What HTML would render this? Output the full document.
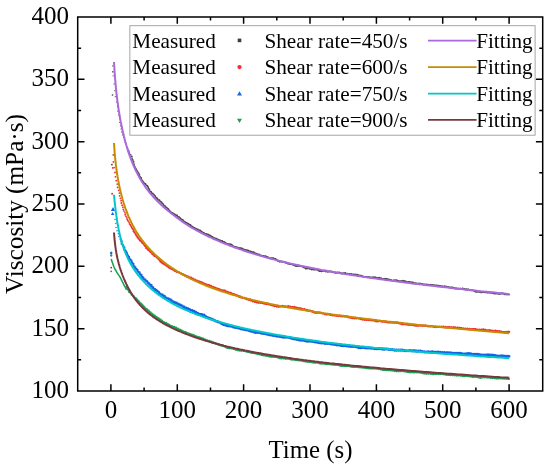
<!DOCTYPE html><html><head><meta charset="utf-8"><title>Viscosity vs Time</title>
<style>html,body{margin:0;padding:0;background:#fff}svg{display:block}text{font-family:"Liberation Serif","Times New Roman",serif;fill:#000}</style></head><body>
<svg width="550" height="470" viewBox="0 0 550 470">
<rect width="550" height="470" fill="#fff"/>
<path d="M112.7,65.9h0 M113.1,75.8h0 M114.1,83.9h0 M114.8,90.7h0 M115.3,96.7h0 M116.3,102.0h0 M117.4,106.7h0 M117.8,111.1h0 M118.7,115.1h0 M119.6,118.8h0 M119.7,122.5h0 M120.6,125.8h0 M121.1,128.9h0 M121.5,132.0h0 M122.5,134.8h0 M123.7,137.3h0 M124.4,139.9h0 M125.2,142.3h0 M126.2,144.6h0 M127.0,146.8h0 M128.0,148.9h0" stroke="#4a4a4a" stroke-width="1.2" stroke-linecap="round" fill="none"/>
<path d="M128.8,150.9h0 M129.3,153.0h0 M130.6,154.7h0 M131.9,156.4h0 M132.0,158.3h0 M132.8,160.0h0 M133.6,161.6h0 M133.7,163.4h0 M134.3,165.0h0 M134.8,166.6h0 M135.5,168.1h0 M136.3,169.4h0 M137.0,170.7h0 M137.7,172.0h0 M138.6,173.2h0 M139.3,174.4h0 M139.5,175.9h0 M140.3,177.0h0 M141.2,178.0h0 M141.5,179.3h0 M142.1,180.5h0 M143.0,181.4h0 M143.6,182.4h0 M144.5,183.3h0 M145.5,184.0h0 M146.1,185.1h0 M147.2,185.7h0 M147.9,186.5h0 M148.3,187.6h0 M148.8,188.6h0 M149.4,189.5h0 M149.6,190.7h0 M150.3,191.5h0 M151.3,192.0h0 M151.6,193.1h0 M152.7,193.5h0 M153.5,194.1h0 M154.1,194.9h0 M154.8,195.6h0 M155.3,196.5h0 M155.8,197.3h0 M156.6,197.9h0 M157.3,198.5h0 M157.8,199.3h0 M158.5,199.9h0 M159.5,200.2h0 M160.0,201.1h0 M160.6,201.7h0 M161.5,202.1h0 M161.9,203.0h0 M162.6,203.6h0 M163.3,204.1h0 M163.6,205.1h0 M164.3,205.6h0 M165.1,206.1h0 M165.4,207.0h0 M166.3,207.3h0 M167.0,207.8h0 M167.6,208.4h0 M168.3,209.0h0 M168.7,209.7h0 M169.2,210.5h0 M169.9,211.0h0 M170.5,211.6h0 M170.9,212.4h0 M171.8,212.7h0 M172.7,212.9h0 M173.2,213.6h0 M174.1,213.8h0 M174.8,214.3h0 M175.3,215.0h0 M176.2,215.2h0 M177.1,215.4h0 M177.5,216.3h0 M178.1,216.8h0 M179.0,217.0h0 M179.6,217.6h0 M180.2,218.2h0 M180.8,218.7h0 M181.3,219.3h0 M182.1,219.6h0 M182.9,220.0h0 M183.2,220.9h0 M183.9,221.3h0 M184.7,221.6h0 M185.3,222.1h0 M185.9,222.6h0 M186.7,222.9h0 M187.3,223.4h0 M188.0,223.7h0 M188.7,224.0h0 M189.3,224.6h0 M190.0,224.9h0 M190.7,225.2h0 M191.1,226.0h0 M191.7,226.5h0 M192.5,226.6h0 M193.0,227.4h0 M193.7,227.6h0 M194.5,227.8h0 M195.0,228.4h0 M195.8,228.6h0 M196.5,228.9h0 M197.1,229.3h0 M197.9,229.4h0 M198.5,229.8h0 M199.1,230.2h0 M199.9,230.4h0 M200.6,230.7h0 M201.0,231.4h0 M201.7,231.8h0 M202.4,232.1h0 M202.8,232.9h0 M203.6,233.0h0 M204.3,233.2h0 M204.9,233.7h0 M205.6,233.9h0 M206.4,233.9h0 M207.0,234.3h0 M207.7,234.5h0 M208.5,234.6h0 M209.0,235.3h0 M209.7,235.5h0 M210.5,235.6h0 M210.9,236.4h0 M211.6,236.6h0 M212.3,236.8h0 M212.8,237.4h0 M213.6,237.6h0 M214.2,237.9h0 M214.8,238.3h0 M215.6,238.4h0 M216.3,238.6h0 M216.8,239.2h0 M217.5,239.3h0 M218.2,239.6h0 M218.9,239.9h0 M219.5,240.1h0 M220.2,240.4h0 M220.8,240.8h0 M221.5,241.0h0 M222.3,241.0h0 M222.8,241.7h0 M223.5,241.9h0 M224.2,241.9h0 M224.7,242.7h0 M225.4,242.7h0 M226.1,243.1h0 M226.5,243.9h0 M227.3,243.9h0 M228.0,243.9h0 M228.7,244.3h0 M229.4,244.2h0 M230.3,244.1h0 M230.8,244.5h0 M231.6,244.6h0 M232.1,245.1h0 M232.6,245.8h0 M233.2,246.2h0 M233.9,246.4h0 M234.5,246.8h0 M235.2,246.9h0 M236.0,246.9h0 M236.5,247.5h0 M237.3,247.5h0 M238.0,247.6h0 M238.5,248.1h0 M239.2,248.2h0 M240.1,248.0h0 M240.7,248.2h0 M241.4,248.3h0 M242.1,248.5h0 M242.7,249.1h0 M243.4,249.1h0 M244.0,249.4h0 M244.6,250.0h0 M245.3,250.0h0 M246.1,249.8h0 M246.7,250.2h0 M247.4,250.3h0 M248.1,250.3h0 M248.7,250.9h0 M249.3,251.1h0 M250.0,251.1h0 M250.6,251.8h0 M251.3,251.7h0 M252.0,251.9h0 M252.6,252.3h0 M253.3,252.2h0 M254.0,252.5h0 M254.6,252.9h0 M255.2,253.3h0 M255.9,253.4h0 M256.4,253.9h0 M257.1,254.2h0 M257.8,254.1h0 M258.4,254.7h0 M259.1,254.5h0 M259.8,254.9h0 M260.3,255.3h0 M261.1,255.3h0 M261.7,255.6h0 M262.3,255.9h0 M263.0,256.1h0 M263.8,255.9h0 M264.4,256.4h0 M265.1,256.2h0 M265.8,256.2h0 M266.4,256.8h0 M267.0,257.0h0 M267.8,257.0h0 M268.3,257.7h0 M268.9,258.1h0 M269.6,257.9h0 M270.2,258.3h0 M271.0,258.2h0 M271.7,258.2h0 M272.4,258.3h0 M273.1,258.2h0 M273.8,258.3h0 M274.4,258.8h0 M275.0,258.9h0 M275.7,258.9h0 M276.2,259.9h0 M276.9,260.1h0 M277.5,260.3h0 M278.0,261.1h0 M278.7,261.2h0 M279.3,261.5h0 M280.0,261.8h0 M280.8,261.4h0 M281.5,261.4h0 M282.1,261.8h0 M282.8,261.7h0 M283.5,261.7h0 M284.1,262.0h0 M284.8,262.3h0 M285.5,262.2h0 M286.0,262.9h0 M286.7,263.0h0 M287.4,263.0h0 M287.9,263.7h0 M288.7,263.6h0 M289.3,264.0h0 M289.9,264.1h0 M290.6,264.1h0 M291.3,264.1h0 M292.0,264.4h0 M292.6,264.5h0 M293.3,264.6h0 M293.9,265.3h0 M294.5,265.4h0 M295.2,265.5h0 M295.8,266.0h0 M296.5,266.0h0 M297.2,265.9h0 M297.9,266.1h0 M298.6,265.7h0 M299.3,265.8h0 M299.9,266.2h0 M300.6,266.2h0 M301.4,266.0h0 M302.0,266.4h0 M302.6,266.8h0 M303.3,266.9h0 M303.8,267.4h0 M304.5,267.6h0 M305.1,267.9h0 M305.7,268.5h0 M306.4,268.5h0 M307.1,268.3h0 M307.8,268.4h0 M308.5,268.4h0 M309.2,268.3h0 M309.8,268.9h0 M310.5,268.6h0 M311.2,268.8h0 M311.7,269.5h0 M312.4,269.4h0 M313.1,269.2h0 M313.8,269.6h0 M314.5,269.6h0 M315.2,269.5h0 M315.8,269.6h0 M316.5,269.7h0 M317.2,269.7h0 M317.8,270.1h0 M318.4,270.6h0 M319.1,270.5h0 M319.7,271.2h0 M320.4,271.0h0 M321.0,271.2h0 M321.7,271.3h0 M322.5,270.9h0 M323.2,270.8h0 M323.9,270.8h0 M324.5,270.9h0 M325.2,270.9h0 M325.8,271.6h0 M326.5,271.4h0 M327.2,271.5h0 M327.8,271.8h0 M328.5,271.5h0 M329.2,271.3h0 M329.9,271.6h0 M330.6,271.4h0 M331.3,271.4h0 M331.8,272.1h0 M332.5,272.2h0 M333.2,272.0h0 M333.8,272.4h0 M334.5,272.6h0 M335.2,272.5h0 M335.8,272.9h0 M336.5,272.7h0 M337.3,272.3h0 M337.9,272.6h0 M338.6,272.6h0 M339.3,272.5h0 M339.9,272.9h0 M340.6,272.9h0 M341.2,273.1h0 M341.8,273.7h0 M342.5,273.4h0 M343.2,273.3h0 M343.9,273.2h0 M344.6,273.2h0 M345.3,273.0h0 M345.9,273.6h0 M346.6,273.7h0 M347.3,273.7h0 M347.9,274.2h0 M348.5,274.2h0 M349.3,274.0h0 M349.9,274.3h0 M350.6,274.1h0 M351.3,274.0h0 M351.9,274.4h0 M352.6,274.3h0 M353.2,274.5h0 M353.9,274.7h0 M354.6,274.6h0 M355.3,274.5h0 M355.9,274.8h0 M356.6,274.7h0 M357.3,274.7h0 M357.9,275.2h0 M358.6,275.2h0 M359.2,275.3h0 M359.9,275.5h0 M360.5,275.8h0 M361.2,275.7h0 M361.8,276.3h0 M362.5,276.2h0 M363.1,276.4h0 M363.7,276.9h0 M364.4,276.9h0 M365.1,276.8h0 M365.8,277.1h0 M366.4,277.0h0 M367.1,276.8h0 M367.8,277.3h0 M368.5,277.1h0 M369.2,276.9h0 M369.7,277.6h0 M370.4,277.6h0 M371.1,277.5h0 M371.8,277.7h0 M372.5,277.4h0 M373.2,277.2h0 M373.8,277.3h0 M374.5,277.3h0 M375.2,277.2h0 M375.8,277.7h0 M376.5,277.7h0 M377.2,277.8h0 M377.8,278.2h0 M378.5,277.9h0 M379.2,277.7h0 M379.8,278.1h0 M380.5,278.3h0 M381.2,278.2h0 M381.8,278.7h0 M382.4,278.8h0 M383.1,278.8h0 M383.7,279.1h0 M384.4,278.9h0 M385.2,278.6h0 M385.8,279.0h0 M386.5,278.9h0 M387.1,278.9h0 M387.7,279.5h0 M388.4,279.3h0 M389.1,279.4h0 M389.7,280.0h0 M390.4,280.0h0 M391.1,280.0h0 M391.7,280.5h0 M392.3,280.7h0 M393.0,280.6h0 M393.7,280.5h0 M394.4,280.5h0 M395.1,280.2h0 M395.7,280.3h0 M396.4,280.2h0 M397.1,280.3h0 M397.7,280.9h0 M398.4,280.8h0 M399.0,281.0h0 M399.6,281.6h0 M400.3,281.3h0 M401.0,281.0h0 M401.7,281.2h0 M402.4,281.2h0 M403.1,280.7h0 M403.7,281.0h0 M404.4,281.2h0 M405.1,281.2h0 M405.7,281.8h0 M406.4,281.7h0 M407.0,281.8h0 M407.6,282.2h0 M408.3,281.9h0 M409.0,282.0h0 M409.7,282.2h0 M410.3,282.2h0 M411.0,282.1h0 M411.6,282.5h0 M412.3,282.5h0 M413.0,282.5h0 M413.6,283.1h0 M414.2,283.2h0 M414.9,283.1h0 M415.6,283.5h0 M416.2,283.4h0 M416.9,283.3h0 M417.5,283.8h0 M418.2,283.6h0 M419.0,283.3h0 M419.6,283.8h0 M420.3,283.7h0 M420.9,283.6h0 M421.6,283.9h0 M422.2,283.9h0 M422.9,284.1h0 M423.5,284.7h0 M424.2,284.5h0 M424.9,284.4h0 M425.5,284.6h0 M426.2,284.5h0 M426.9,284.4h0 M427.5,284.7h0 M428.2,284.8h0 M428.9,284.7h0 M429.5,285.1h0 M430.2,284.9h0 M430.9,284.7h0 M431.5,285.3h0 M432.2,285.0h0 M432.9,284.9h0 M433.5,285.5h0 M434.2,285.5h0 M434.9,285.2h0 M435.5,285.5h0 M436.2,285.3h0 M436.9,285.5h0 M437.5,285.8h0 M438.2,285.6h0 M438.9,285.6h0 M439.5,285.9h0 M440.2,286.0h0 M440.8,286.1h0 M441.5,286.1h0 M442.1,286.3h0 M442.8,286.2h0 M443.5,286.6h0 M444.1,286.6h0 M444.9,286.1h0 M445.4,286.8h0 M446.1,286.6h0 M446.8,286.6h0 M447.4,287.0h0 M448.1,287.0h0 M448.8,287.1h0 M449.4,287.5h0 M450.1,287.4h0 M450.8,287.3h0 M451.4,287.5h0 M452.1,287.4h0 M452.8,287.3h0 M453.4,287.9h0 M454.0,288.0h0 M454.7,287.9h0 M455.3,288.5h0 M456.0,288.6h0 M456.7,288.3h0 M457.3,288.6h0 M458.0,288.7h0 M458.7,288.6h0 M459.3,288.8h0 M460.0,288.6h0 M460.7,288.7h0 M461.3,288.9h0 M462.0,288.6h0 M462.7,288.4h0 M463.3,289.1h0 M464.0,289.2h0 M464.7,289.0h0 M465.3,289.5h0 M466.0,289.3h0 M466.7,289.1h0 M467.3,289.5h0 M468.0,289.5h0 M468.7,289.4h0 M469.3,289.9h0 M469.9,290.0h0 M470.6,290.1h0 M471.2,290.4h0 M471.9,290.1h0 M472.6,290.1h0 M473.2,290.6h0 M473.9,290.8h0 M474.5,290.9h0 M475.2,291.5h0 M475.8,291.8h0 M476.5,291.6h0 M477.1,291.9h0 M477.8,291.7h0 M478.5,291.6h0 M479.1,292.1h0 M479.8,291.9h0 M480.5,291.7h0 M481.1,292.4h0 M481.8,292.3h0 M482.5,292.0h0 M483.1,292.2h0 M483.8,292.1h0 M484.5,292.2h0 M485.1,292.4h0 M485.8,292.3h0 M486.5,292.1h0 M487.1,292.6h0 M487.8,292.6h0 M488.5,292.6h0 M489.1,292.7h0 M489.8,292.6h0 M490.5,292.6h0 M491.1,292.9h0 M491.8,292.9h0 M492.5,292.8h0 M493.1,293.2h0 M493.7,293.4h0 M494.4,293.4h0 M495.1,293.7h0 M495.8,293.3h0 M496.4,293.4h0 M497.1,293.7h0 M497.7,293.7h0 M498.4,293.6h0 M499.0,294.1h0 M499.7,293.9h0 M500.5,293.3h0 M501.1,293.7h0 M501.8,293.4h0 M502.5,293.2h0 M503.1,293.7h0 M503.8,293.7h0 M504.4,294.2h0 M505.0,294.4h0 M505.7,294.2h0 M506.4,294.2h0 M507.0,294.5h0 M507.7,294.3h0 M508.4,294.0h0 M509.0,294.6h0" stroke="#4a4a4a" stroke-width="1.8" stroke-linecap="round" fill="none"/>
<path d="M113.3,154.9h0 M113.4,161.9h0 M114.1,167.6h0 M115.0,172.5h0 M115.4,176.8h0 M116.2,180.7h0 M117.2,184.1h0 M117.6,187.4h0 M118.7,190.3h0 M119.4,193.1h0 M119.6,195.8h0 M120.4,198.3h0 M121.1,200.7h0 M121.3,203.0h0 M122.1,205.2h0 M122.9,207.2h0 M123.2,209.3h0 M124.0,211.1h0 M125.0,212.8h0 M125.2,214.7h0 M126.0,216.3h0 M126.9,217.8h0 M127.2,219.5h0 M128.1,220.9h0 M129.1,222.3h0 M129.5,223.8h0 M130.4,225.0h0 M131.2,226.2h0 M131.6,227.7h0" stroke="#f03030" stroke-width="1.8" stroke-linecap="round" fill="none"/>
<path d="M132.6,228.7h0 M133.4,229.8h0 M133.6,231.3h0 M134.4,232.3h0 M135.4,233.3h0 M135.7,234.5h0 M136.4,235.6h0 M137.2,236.6h0 M137.7,237.6h0 M138.5,238.5h0 M139.4,239.3h0 M139.9,240.4h0 M140.9,241.0h0 M141.7,241.8h0 M142.2,242.8h0 M143.2,243.4h0 M144.0,244.2h0 M144.4,245.2h0 M145.0,246.0h0 M146.0,246.6h0 M146.1,247.9h0 M146.9,248.5h0 M147.7,249.0h0 M148.1,250.0h0 M149.1,250.5h0 M149.9,251.1h0 M150.4,251.9h0 M151.2,252.5h0 M152.0,253.1h0 M152.3,254.1h0 M153.1,254.6h0 M153.9,255.1h0 M154.4,255.9h0 M155.4,256.2h0 M156.3,256.5h0 M156.7,257.4h0 M157.5,257.8h0 M158.4,258.2h0 M158.6,259.2h0 M159.3,259.8h0 M160.0,260.3h0 M160.3,261.4h0 M161.0,261.9h0 M161.7,262.4h0 M162.2,263.0h0 M162.9,263.5h0 M163.8,263.8h0 M164.4,264.4h0 M165.3,264.6h0 M166.0,265.1h0 M166.5,265.8h0 M167.4,266.0h0 M168.1,266.4h0 M168.5,267.3h0 M169.2,267.7h0 M170.2,267.6h0 M170.6,268.4h0 M171.3,268.8h0 M172.1,269.1h0 M172.8,269.6h0 M173.6,269.8h0 M174.3,270.2h0 M174.7,271.0h0 M175.5,271.2h0 M176.4,271.2h0 M176.9,272.0h0 M177.7,272.0h0 M178.6,272.1h0 M179.2,272.7h0 M180.0,272.8h0 M180.7,273.1h0 M181.2,273.7h0 M182.0,273.9h0 M182.8,274.1h0 M183.3,274.8h0 M184.0,274.9h0 M184.8,275.0h0 M185.3,275.8h0 M186.1,275.9h0 M186.8,276.1h0 M187.3,276.7h0 M188.2,276.7h0 M188.9,277.0h0 M189.4,277.5h0 M190.2,277.6h0 M191.0,277.6h0 M191.5,278.4h0 M192.2,278.6h0 M193.0,278.6h0 M193.4,279.4h0 M194.2,279.5h0 M194.9,279.7h0 M195.5,280.2h0 M196.1,280.5h0 M196.9,280.6h0 M197.5,281.2h0 M198.2,281.3h0 M199.0,281.3h0 M199.5,281.9h0 M200.3,281.8h0 M201.0,282.0h0 M201.6,282.5h0 M202.3,282.6h0 M203.0,283.0h0 M203.4,283.7h0 M204.2,283.6h0 M204.9,283.8h0 M205.4,284.6h0 M206.1,284.7h0 M206.9,284.7h0 M207.5,285.1h0 M208.2,285.2h0 M209.0,285.2h0 M209.5,285.7h0 M210.2,285.9h0 M211.0,285.9h0 M211.4,286.6h0 M212.1,286.8h0 M212.9,286.9h0 M213.4,287.5h0 M214.1,287.6h0 M214.8,287.7h0 M215.3,288.4h0 M216.0,288.4h0 M216.8,288.3h0 M217.3,289.0h0 M218.1,289.0h0 M218.8,288.9h0 M219.4,289.4h0 M220.1,289.6h0 M220.7,289.8h0 M221.3,290.4h0 M222.1,290.3h0 M222.8,290.3h0 M223.3,290.9h0 M224.1,290.7h0 M224.9,290.6h0 M225.4,291.3h0 M226.0,291.5h0 M226.7,291.6h0 M227.2,292.4h0 M228.0,292.2h0 M228.7,292.3h0 M229.3,292.9h0 M230.0,292.9h0 M230.7,292.9h0 M231.2,293.5h0 M231.9,293.7h0 M232.6,293.8h0 M233.1,294.3h0 M233.8,294.4h0 M234.6,294.4h0 M235.1,294.9h0 M235.8,295.1h0 M236.5,295.1h0 M237.0,295.8h0 M237.7,295.8h0 M238.4,295.9h0 M238.9,296.8h0 M239.7,296.6h0 M240.3,296.7h0 M240.8,297.5h0 M241.6,297.4h0 M242.2,297.6h0 M242.9,297.9h0 M243.6,298.0h0 M244.3,297.9h0 M244.9,298.4h0 M245.5,298.6h0 M246.2,298.6h0 M246.8,299.2h0 M247.5,299.3h0 M248.2,299.4h0 M248.8,299.8h0 M249.5,299.8h0 M250.2,299.6h0 M250.7,300.4h0 M251.4,300.4h0 M252.1,300.4h0 M252.6,301.3h0 M253.4,301.1h0 M254.1,301.0h0 M254.6,301.8h0 M255.3,302.0h0 M256.0,301.8h0 M256.6,302.3h0 M257.3,302.4h0 M258.0,302.4h0 M258.6,302.8h0 M259.4,302.4h0 M260.1,302.4h0 M260.7,302.9h0 M261.4,302.8h0 M262.1,302.7h0 M262.7,303.1h0 M263.4,303.3h0 M264.1,303.1h0 M264.7,303.7h0 M265.3,303.8h0 M266.1,303.7h0 M266.7,304.1h0 M267.4,303.8h0 M268.1,303.9h0 M268.7,304.4h0 M269.4,304.2h0 M270.1,304.4h0 M270.6,305.0h0 M271.3,305.1h0 M272.0,305.1h0 M272.6,305.5h0 M273.3,305.6h0 M274.0,305.5h0 M274.6,306.1h0 M275.3,305.9h0 M276.0,305.8h0 M276.6,306.6h0 M277.3,306.4h0 M278.0,306.3h0 M278.6,306.8h0 M279.3,306.6h0 M280.0,306.4h0 M280.7,306.6h0 M281.4,306.4h0 M282.2,305.9h0 M282.8,306.3h0 M283.5,306.4h0 M284.2,306.3h0 M284.8,306.8h0 M285.5,306.4h0 M286.2,306.6h0 M286.8,306.8h0 M287.6,306.3h0 M288.3,306.2h0 M288.9,306.8h0 M289.5,306.9h0 M290.3,306.7h0 M290.9,307.2h0 M291.5,307.2h0 M292.3,307.0h0 M292.9,307.3h0 M293.6,307.0h0 M294.3,306.9h0 M294.9,307.5h0 M295.6,307.6h0 M296.3,307.6h0 M296.8,308.3h0 M297.5,308.2h0 M298.2,308.1h0 M298.9,308.4h0 M299.5,308.4h0 M300.2,308.4h0 M300.9,308.7h0 M301.5,308.7h0 M302.2,308.8h0 M302.8,309.4h0 M303.5,309.3h0 M304.2,309.1h0 M304.7,309.9h0 M305.4,309.9h0 M306.1,309.8h0 M306.7,310.3h0 M307.4,310.2h0 M308.1,310.3h0 M308.7,310.8h0 M309.4,310.5h0 M310.1,310.5h0 M310.7,311.1h0 M311.3,311.2h0 M312.0,311.2h0 M312.6,311.8h0 M313.3,311.8h0 M313.9,312.0h0 M314.5,312.7h0 M315.2,312.6h0 M315.9,312.4h0 M316.5,312.9h0 M317.2,312.7h0 M317.9,312.4h0 M318.6,312.7h0 M319.3,312.6h0 M320.0,312.6h0 M320.6,313.0h0 M321.2,313.1h0 M321.9,313.0h0 M322.6,313.4h0 M323.2,313.4h0 M323.9,313.5h0 M324.5,314.1h0 M325.1,314.2h0 M325.8,314.1h0 M326.5,314.6h0 M327.2,314.3h0 M327.9,314.0h0 M328.5,314.5h0 M329.2,314.4h0 M329.9,314.1h0 M330.5,314.9h0 M331.2,314.9h0 M331.8,315.0h0 M332.4,315.5h0 M333.1,315.1h0 M333.8,315.2h0 M334.4,315.5h0 M335.1,315.6h0 M335.8,315.4h0 M336.4,315.8h0 M337.1,315.7h0 M337.8,315.6h0 M338.4,316.1h0 M339.1,316.0h0 M339.8,315.7h0 M340.5,316.2h0 M341.1,316.2h0 M341.8,316.0h0 M342.4,316.4h0 M343.1,316.3h0 M343.8,316.1h0 M344.5,316.6h0 M345.2,316.4h0 M345.9,316.2h0 M346.5,316.6h0 M347.2,316.6h0 M347.8,316.6h0 M348.4,317.3h0 M349.1,317.2h0 M349.8,317.1h0 M350.4,317.8h0 M351.1,317.7h0 M351.7,317.8h0 M352.3,318.2h0 M353.0,318.0h0 M353.7,318.0h0 M354.3,318.5h0 M355.0,318.2h0 M355.8,317.8h0 M356.4,318.3h0 M357.1,318.3h0 M357.7,318.2h0 M358.4,318.5h0 M359.1,318.5h0 M359.7,318.5h0 M360.3,319.1h0 M361.0,319.0h0 M361.7,318.8h0 M362.3,319.6h0 M363.0,319.3h0 M363.7,319.2h0 M364.3,319.8h0 M365.0,319.5h0 M365.6,319.7h0 M366.3,319.9h0 M367.0,319.8h0 M367.7,319.7h0 M368.3,320.1h0 M369.0,319.9h0 M369.7,319.7h0 M370.3,320.2h0 M371.0,320.2h0 M371.7,319.8h0 M372.3,320.3h0 M373.0,320.3h0 M373.7,320.0h0 M374.3,320.7h0 M375.0,320.7h0 M375.6,320.9h0 M376.2,321.5h0 M376.9,321.2h0 M377.6,321.2h0 M378.3,321.3h0 M378.9,321.1h0 M379.7,320.8h0 M380.3,321.1h0 M381.0,321.2h0 M381.6,321.1h0 M382.2,321.8h0 M382.9,321.5h0 M383.6,321.4h0 M384.2,321.8h0 M384.9,321.7h0 M385.6,321.5h0 M386.2,322.1h0 M386.9,322.1h0 M387.6,322.0h0 M388.2,322.5h0 M388.9,322.4h0 M389.6,322.1h0 M390.2,322.4h0 M390.9,322.4h0 M391.6,322.2h0 M392.2,322.7h0 M392.9,322.4h0 M393.6,322.4h0 M394.2,322.8h0 M394.9,322.5h0 M395.6,322.3h0 M396.2,323.0h0 M396.9,322.7h0 M397.6,322.4h0 M398.2,323.1h0 M398.9,323.2h0 M399.5,323.3h0 M400.2,323.6h0 M400.8,323.7h0 M401.5,323.6h0 M402.1,324.3h0 M402.8,324.1h0 M403.5,323.7h0 M404.1,324.3h0 M404.8,324.2h0 M405.5,324.2h0 M406.1,324.5h0 M406.8,324.4h0 M407.5,324.4h0 M408.1,324.8h0 M408.8,324.7h0 M409.5,324.5h0 M410.1,324.9h0 M410.8,324.7h0 M411.5,324.7h0 M412.1,325.0h0 M412.8,324.9h0 M413.5,324.7h0 M414.1,325.5h0 M414.8,325.4h0 M415.4,325.4h0 M416.1,325.8h0 M416.8,325.5h0 M417.4,325.6h0 M418.1,325.8h0 M418.8,325.4h0 M419.5,325.1h0 M420.1,325.6h0 M420.8,325.6h0 M421.5,325.5h0 M422.1,325.8h0 M422.8,325.6h0 M423.5,325.5h0 M424.1,325.9h0 M424.8,325.7h0 M425.5,325.3h0 M426.1,325.8h0 M426.8,326.0h0 M427.4,326.0h0 M428.1,326.5h0 M428.8,326.2h0 M429.4,326.1h0 M430.1,326.6h0 M430.8,326.3h0 M431.5,326.0h0 M432.1,326.4h0 M432.8,326.4h0 M433.4,326.6h0 M434.0,327.0h0 M434.7,326.8h0 M435.4,326.7h0 M436.0,327.2h0 M436.7,326.8h0 M437.4,326.7h0 M438.1,327.0h0 M438.7,327.0h0 M439.4,326.7h0 M440.1,327.0h0 M440.7,327.0h0 M441.5,326.7h0 M442.1,327.1h0 M442.8,326.8h0 M443.5,326.7h0 M444.1,327.3h0 M444.7,327.2h0 M445.4,326.9h0 M446.1,327.6h0 M446.7,327.5h0 M447.4,327.0h0 M448.1,327.4h0 M448.8,327.1h0 M449.4,327.2h0 M450.1,327.5h0 M450.8,327.3h0 M451.4,327.3h0 M452.1,327.8h0 M452.8,327.3h0 M453.5,327.2h0 M454.1,327.6h0 M454.8,327.6h0 M455.4,327.4h0 M456.1,327.8h0 M456.7,328.0h0 M457.4,327.7h0 M458.1,328.0h0 M458.7,327.8h0 M459.4,327.9h0 M460.0,328.3h0 M460.7,328.2h0 M461.4,328.2h0 M462.0,328.8h0 M462.7,328.7h0 M463.4,328.4h0 M464.0,329.0h0 M464.7,328.8h0 M465.4,328.5h0 M466.0,329.1h0 M466.7,328.8h0 M467.4,328.7h0 M468.0,329.2h0 M468.7,329.0h0 M469.4,328.9h0 M470.0,329.4h0 M470.7,329.3h0 M471.4,329.0h0 M472.0,329.3h0 M472.7,329.2h0 M473.4,329.1h0 M474.0,329.5h0 M474.7,329.2h0 M475.4,329.1h0 M476.0,329.8h0 M476.6,329.7h0 M477.3,329.7h0 M478.0,329.9h0 M478.6,330.0h0 M479.3,329.7h0 M479.9,330.1h0 M480.6,330.0h0 M481.3,329.6h0 M482.0,330.1h0 M482.7,329.7h0 M483.3,329.4h0 M484.0,330.0h0 M484.7,329.8h0 M485.3,329.8h0 M486.0,330.2h0 M486.6,330.4h0 M487.3,330.3h0 M487.9,330.6h0 M488.6,330.4h0 M489.3,330.0h0 M489.9,330.7h0 M490.6,330.7h0 M491.3,330.7h0 M491.9,331.0h0 M492.6,330.9h0 M493.2,330.9h0 M493.9,331.4h0 M494.6,331.0h0 M495.3,330.7h0 M495.9,331.3h0 M496.6,331.2h0 M497.2,331.1h0 M497.9,331.5h0 M498.6,331.4h0 M499.2,331.1h0 M499.9,331.8h0 M500.5,331.7h0 M501.2,331.5h0 M501.8,332.0h0 M502.5,332.0h0 M503.2,332.1h0 M503.8,332.4h0 M504.5,332.1h0 M505.2,332.0h0 M505.8,332.5h0 M506.5,332.1h0 M507.2,331.8h0 M507.8,332.2h0 M508.5,331.9h0 M509.2,331.8h0" stroke="#f03030" stroke-width="2.2" stroke-linecap="round" fill="none"/>
<path d="M115.0,219.4h0 M115.9,223.5h0 M116.0,227.4h0 M117.0,230.7h0 M118.3,233.7h0 M118.8,236.6h0 M120.0,239.1h0" stroke="#1464e6" stroke-width="1.4" stroke-linecap="round" fill="none"/>
<path d="M121.4,241.3h0 M121.8,243.7h0 M123.1,245.6h0 M124.2,247.4h0 M124.4,249.4h0 M125.6,251.0h0 M126.6,252.5h0 M126.9,254.2h0 M127.9,255.6h0 M128.9,256.9h0 M129.2,258.4h0 M130.2,259.6h0 M131.3,260.6h0 M131.6,262.0h0 M132.3,263.1h0 M133.3,264.1h0 M133.3,265.6h0 M134.3,266.5h0 M135.2,267.3h0 M135.5,268.6h0 M136.6,269.2h0 M137.4,270.1h0 M137.6,271.2h0 M138.6,271.9h0 M139.5,272.6h0 M139.7,273.8h0 M140.5,274.5h0 M141.4,275.1h0 M141.5,276.3h0 M142.3,277.0h0 M143.2,277.5h0 M143.3,278.8h0 M144.3,279.2h0 M145.2,279.6h0 M145.5,280.6h0 M146.4,281.1h0 M147.2,281.6h0 M147.6,282.5h0 M148.3,283.1h0 M149.2,283.5h0 M149.5,284.5h0 M150.4,284.8h0 M151.3,285.1h0 M151.3,286.4h0 M152.2,286.7h0 M152.9,287.2h0 M153.1,288.3h0 M153.9,288.7h0 M154.7,289.1h0 M155.1,289.9h0 M156.0,290.1h0 M156.8,290.4h0 M157.1,291.3h0 M158.0,291.6h0 M158.7,292.0h0 M158.9,293.0h0 M159.6,293.5h0 M160.5,293.7h0 M160.7,294.7h0 M161.6,294.8h0 M162.6,294.8h0 M162.9,295.7h0 M163.7,296.0h0 M164.6,296.1h0 M164.8,297.1h0 M165.6,297.4h0 M166.3,297.7h0 M166.8,298.3h0 M167.7,298.4h0 M168.5,298.6h0 M169.0,299.2h0 M169.8,299.4h0 M170.6,299.5h0 M170.9,300.5h0 M171.7,300.6h0 M172.4,300.9h0 M172.6,302.0h0 M173.4,302.0h0 M174.3,302.0h0 M174.6,303.0h0 M175.6,302.8h0 M176.4,302.8h0 M176.8,303.6h0 M177.6,303.7h0 M178.4,303.7h0 M178.8,304.6h0 M179.5,304.8h0 M180.3,304.8h0 M180.8,305.5h0 M181.6,305.5h0 M182.3,305.7h0 M182.7,306.6h0 M183.5,306.7h0 M184.2,306.8h0 M184.5,307.8h0 M185.3,307.9h0 M186.1,307.8h0 M186.5,308.6h0 M187.3,308.6h0 M188.1,308.6h0 M188.5,309.5h0 M189.3,309.5h0 M190.0,309.5h0 M190.5,310.2h0 M191.2,310.3h0 M192.0,310.3h0 M192.5,311.1h0 M193.2,311.0h0 M194.0,311.1h0 M194.4,311.9h0 M195.2,311.8h0 M195.9,312.0h0 M196.3,312.9h0 M197.0,313.1h0 M197.8,313.0h0 M198.2,314.0h0 M198.9,314.0h0 M199.7,313.9h0 M200.2,314.6h0 M201.1,314.3h0 M201.8,314.3h0 M202.3,314.9h0 M203.1,314.9h0 M203.9,314.7h0 M204.3,315.7h0 M204.9,316.0h0 M205.6,316.0h0 M206.1,316.9h0 M206.7,317.1h0 M207.4,317.2h0 M207.9,318.0h0 M208.7,317.9h0 M209.4,318.0h0 M209.8,319.0h0 M210.6,318.8h0 M211.4,318.7h0 M211.8,319.5h0 M212.5,319.5h0 M213.3,319.4h0 M213.8,320.2h0 M214.5,320.2h0 M215.2,320.4h0 M215.6,321.2h0 M216.4,321.3h0 M217.1,321.2h0 M217.6,322.0h0 M218.3,321.9h0 M219.1,321.9h0 M219.6,322.6h0 M220.2,322.8h0 M220.9,323.0h0 M221.4,323.8h0 M222.1,324.0h0 M222.8,323.8h0 M223.3,324.7h0 M224.1,324.5h0 M224.8,324.3h0 M225.3,325.2h0 M226.0,325.1h0 M226.8,325.1h0 M227.2,326.1h0 M228.0,325.8h0 M228.7,325.8h0 M229.3,326.3h0 M230.0,326.1h0 M230.8,325.9h0 M231.3,326.6h0 M232.0,326.6h0 M232.8,326.5h0 M233.3,327.3h0 M234.1,327.1h0 M234.8,327.0h0 M235.3,327.7h0 M236.1,327.5h0 M236.8,327.3h0 M237.3,328.0h0 M238.0,328.1h0 M238.8,327.9h0 M239.3,328.6h0 M240.0,328.5h0 M240.7,328.5h0 M241.3,329.3h0 M242.0,329.0h0 M242.8,328.9h0 M243.3,329.6h0 M244.0,329.5h0 M244.8,329.2h0 M245.3,329.9h0 M246.1,329.7h0 M246.8,329.6h0 M247.3,330.3h0 M248.1,330.2h0 M248.8,330.1h0 M249.3,331.0h0 M250.0,330.9h0 M250.7,330.7h0 M251.3,331.4h0 M252.0,331.3h0 M252.7,331.1h0 M253.3,331.9h0 M254.0,331.8h0 M254.6,332.0h0 M255.2,332.7h0 M255.9,332.4h0 M256.7,332.1h0 M257.2,332.8h0 M258.0,332.5h0 M258.8,332.0h0 M259.3,332.7h0 M260.0,332.8h0 M260.7,332.7h0 M261.3,333.4h0 M262.0,333.3h0 M262.7,333.1h0 M263.3,333.7h0 M264.0,333.3h0 M264.8,333.2h0 M265.3,333.9h0 M266.0,333.7h0 M266.7,333.6h0 M267.3,334.4h0 M268.0,334.2h0 M268.7,334.2h0 M269.3,334.9h0 M270.0,334.7h0 M270.7,334.6h0 M271.2,335.3h0 M271.9,335.2h0 M272.7,335.0h0 M273.2,335.7h0 M273.9,335.6h0 M274.7,335.3h0 M275.2,336.1h0 M276.0,335.8h0 M276.7,335.7h0 M277.2,336.4h0 M278.0,336.0h0 M278.7,335.9h0 M279.2,336.6h0 M279.9,336.7h0 M280.6,336.5h0 M281.2,337.1h0 M281.9,337.0h0 M282.6,336.8h0 M283.2,337.4h0 M284.0,337.1h0 M284.7,336.8h0 M285.2,337.6h0 M286.0,337.2h0 M286.7,337.0h0 M287.3,337.6h0 M288.0,337.3h0 M288.7,337.2h0 M289.3,337.8h0 M290.0,337.8h0 M290.7,337.5h0 M291.2,338.5h0 M291.9,338.4h0 M292.6,338.3h0 M293.2,339.1h0 M293.9,339.0h0 M294.6,338.9h0 M295.2,339.3h0 M295.9,339.2h0 M296.6,338.9h0 M297.2,339.7h0 M297.9,339.6h0 M298.6,339.5h0 M299.1,340.2h0 M299.8,340.0h0 M300.5,339.9h0 M301.1,340.5h0 M301.9,340.1h0 M302.6,339.7h0 M303.2,340.5h0 M303.9,340.4h0 M304.5,340.3h0 M305.1,341.1h0 M305.8,340.9h0 M306.5,340.7h0 M307.1,341.4h0 M307.8,340.9h0 M308.6,340.7h0 M309.1,341.4h0 M309.8,341.2h0 M310.6,341.0h0 M311.1,341.6h0 M311.8,341.6h0 M312.5,341.3h0 M313.1,341.8h0 M313.8,341.7h0 M314.5,341.5h0 M315.1,342.2h0 M315.8,342.0h0 M316.5,341.9h0 M317.1,342.5h0 M317.8,342.5h0 M318.5,342.3h0 M319.1,343.0h0 M319.8,342.7h0 M320.5,342.4h0 M321.1,343.2h0 M321.8,342.7h0 M322.5,342.6h0 M323.1,343.3h0 M323.8,343.1h0 M324.5,343.0h0 M325.1,343.7h0 M325.8,343.5h0 M326.5,343.1h0 M327.1,343.8h0 M327.8,343.6h0 M328.5,343.2h0 M329.1,343.7h0 M329.8,343.6h0 M330.5,343.6h0 M331.1,344.3h0 M331.8,344.0h0 M332.5,343.7h0 M333.1,344.5h0 M333.7,344.5h0 M334.5,344.1h0 M335.1,344.8h0 M335.7,344.7h0 M336.4,344.7h0 M337.0,345.2h0 M337.7,344.9h0 M338.4,344.6h0 M339.0,345.3h0 M339.7,345.3h0 M340.4,345.1h0 M341.0,345.8h0 M341.7,345.7h0 M342.4,345.5h0 M343.0,345.9h0 M343.7,345.6h0 M344.4,345.3h0 M345.0,345.9h0 M345.7,345.5h0 M346.4,345.4h0 M347.0,346.2h0 M347.7,345.9h0 M348.4,345.7h0 M349.0,346.4h0 M349.7,346.2h0 M350.4,345.9h0 M351.0,346.7h0 M351.7,346.3h0 M352.4,346.0h0 M353.0,346.8h0 M353.7,346.5h0 M354.4,346.3h0 M355.0,346.8h0 M355.7,346.7h0 M356.4,346.5h0 M357.0,347.3h0 M357.7,347.2h0 M358.3,347.1h0 M358.9,347.9h0 M359.6,347.6h0 M360.3,347.3h0 M360.9,347.9h0 M361.7,347.4h0 M362.4,347.1h0 M363.0,347.7h0 M363.7,347.6h0 M364.3,347.5h0 M364.9,348.1h0 M365.6,347.9h0 M366.3,347.8h0 M366.9,348.3h0 M367.6,348.0h0 M368.4,347.6h0 M369.0,348.3h0 M369.6,348.1h0 M370.4,347.8h0 M371.0,348.4h0 M371.6,348.3h0 M372.3,348.1h0 M372.9,348.6h0 M373.6,348.6h0 M374.3,348.2h0 M374.9,349.0h0 M375.6,348.5h0 M376.3,348.3h0 M376.9,348.9h0 M377.7,348.5h0 M378.3,348.4h0 M379.0,348.9h0 M379.7,348.6h0 M380.3,348.4h0 M380.9,349.1h0 M381.6,348.8h0 M382.3,348.5h0 M382.9,349.4h0 M383.6,349.1h0 M384.3,348.8h0 M384.9,349.4h0 M385.6,349.0h0 M386.3,348.7h0 M387.0,349.3h0 M387.6,349.1h0 M388.3,348.9h0 M388.9,349.7h0 M389.6,349.4h0 M390.3,349.2h0 M390.9,349.8h0 M391.6,349.7h0 M392.3,349.3h0 M392.9,349.9h0 M393.6,350.1h0 M394.3,349.8h0 M394.9,350.4h0 M395.6,350.0h0 M396.3,349.7h0 M396.9,350.4h0 M397.6,349.9h0 M398.3,349.7h0 M398.9,350.4h0 M399.6,350.2h0 M400.3,349.8h0 M400.9,350.4h0 M401.6,350.1h0 M402.3,349.8h0 M402.9,350.5h0 M403.6,350.3h0 M404.3,350.3h0 M404.9,350.9h0 M405.6,350.7h0 M406.2,350.5h0 M406.9,351.1h0 M407.6,350.7h0 M408.3,350.4h0 M408.9,351.1h0 M409.6,350.8h0 M410.3,350.3h0 M410.9,350.9h0 M411.6,350.9h0 M412.3,350.5h0 M412.9,351.0h0 M413.6,350.6h0 M414.3,350.6h0 M414.9,351.3h0 M415.6,350.8h0 M416.3,350.7h0 M416.9,351.4h0 M417.5,351.3h0 M418.3,350.8h0 M418.9,351.2h0 M419.6,351.1h0 M420.3,350.8h0 M420.9,351.6h0 M421.6,351.3h0 M422.2,351.2h0 M422.8,352.0h0 M423.5,351.8h0 M424.2,351.6h0 M424.8,352.3h0 M425.5,352.0h0 M426.2,351.7h0 M426.8,352.1h0 M427.5,351.9h0 M428.2,351.6h0 M428.8,352.1h0 M429.5,351.9h0 M430.2,351.7h0 M430.8,352.5h0 M431.5,352.2h0 M432.2,351.6h0 M432.8,352.4h0 M433.5,352.1h0 M434.2,351.9h0 M434.8,352.3h0 M435.5,351.9h0 M436.2,351.9h0 M436.8,352.4h0 M437.5,352.2h0 M438.2,351.7h0 M438.8,352.6h0 M439.5,352.2h0 M440.2,352.0h0 M440.8,352.7h0 M441.5,352.4h0 M442.2,352.3h0 M442.8,352.8h0 M443.5,352.7h0 M444.2,352.3h0 M444.8,353.0h0 M445.5,352.7h0 M446.2,352.4h0 M446.8,352.9h0 M447.5,352.6h0 M448.2,352.4h0 M448.8,353.1h0 M449.5,352.7h0 M450.2,352.5h0 M450.8,353.3h0 M451.5,353.0h0 M452.1,352.9h0 M452.8,353.5h0 M453.4,353.3h0 M454.1,352.9h0 M454.8,353.5h0 M455.4,353.3h0 M456.1,353.0h0 M456.8,353.5h0 M457.4,353.3h0 M458.1,353.0h0 M458.8,353.5h0 M459.4,353.3h0 M460.1,353.0h0 M460.7,353.7h0 M461.4,353.5h0 M462.1,353.4h0 M462.7,354.2h0 M463.4,354.0h0 M464.1,353.7h0 M464.7,354.2h0 M465.4,353.9h0 M466.1,353.5h0 M466.7,354.2h0 M467.4,353.7h0 M468.1,353.3h0 M468.7,354.0h0 M469.4,353.6h0 M470.1,353.4h0 M470.7,353.9h0 M471.4,353.8h0 M472.1,353.9h0 M472.7,354.4h0 M473.4,354.3h0 M474.1,354.0h0 M474.7,354.8h0 M475.3,354.6h0 M476.0,354.1h0 M476.7,354.7h0 M477.4,354.3h0 M478.0,354.1h0 M478.7,354.7h0 M479.4,354.4h0 M480.0,354.4h0 M480.6,355.1h0 M481.3,355.0h0 M482.0,354.7h0 M482.6,355.4h0 M483.3,355.1h0 M484.0,354.8h0 M484.6,355.5h0 M485.3,355.0h0 M486.0,354.7h0 M486.6,355.2h0 M487.3,354.9h0 M488.0,354.6h0 M488.6,355.2h0 M489.3,354.9h0 M490.0,354.8h0 M490.6,355.4h0 M491.3,355.2h0 M492.0,354.7h0 M492.6,355.5h0 M493.3,355.3h0 M494.0,355.0h0 M494.6,355.9h0 M495.3,355.6h0 M495.9,355.4h0 M496.6,356.2h0 M497.3,355.9h0 M497.9,355.8h0 M498.6,356.3h0 M499.2,355.9h0 M499.9,355.7h0 M500.6,356.2h0 M501.2,355.9h0 M501.9,355.6h0 M502.6,356.2h0 M503.2,356.0h0 M503.9,355.8h0 M504.5,356.5h0 M505.2,356.4h0 M505.9,355.9h0 M506.5,356.5h0 M507.2,356.2h0 M507.9,355.9h0 M508.5,356.4h0 M509.2,356.2h0" stroke="#1464e6" stroke-width="2.5" stroke-linecap="round" fill="none"/>
<path d="M111.4,259.5h0 M111.7,260.4h0 M112.0,261.4h0 M112.3,262.3h0 M112.7,263.3h0 M113.0,264.2h0 M113.3,265.2h0 M113.7,266.1h0 M114.0,267.1h0 M114.4,268.0h0 M114.9,268.9h0 M115.4,269.7h0 M115.9,270.6h0 M116.4,271.4h0 M116.9,272.3h0 M117.4,273.2h0 M118.0,274.0h0 M118.5,274.8h0 M119.1,275.6h0 M119.7,276.5h0 M120.2,277.3h0 M120.6,278.2h0 M121.1,279.1h0 M121.5,280.0h0 M122.0,280.9h0 M122.4,281.8h0 M122.9,282.7h0 M123.3,283.6h0 M123.8,284.5h0 M124.2,285.4h0 M124.7,286.2h0 M125.2,287.1h0 M125.7,288.0h0 M126.2,288.9h0" stroke="#1ea050" stroke-width="1.7" stroke-linecap="round" fill="none"/>
<path d="M126.2,287.0h0 M126.6,288.5h0 M127.7,289.5h0 M128.7,290.6h0 M129.1,291.9h0 M130.3,292.7h0 M131.3,293.6h0 M131.7,294.8h0 M132.7,295.6h0 M133.8,296.4h0 M134.4,297.4h0 M135.3,298.1h0 M136.4,298.7h0 M136.9,299.6h0 M137.7,300.4h0 M138.6,301.1h0 M139.0,302.1h0 M139.8,302.7h0 M140.6,303.3h0 M141.1,304.2h0 M142.0,304.7h0 M142.7,305.4h0 M143.0,306.3h0 M143.9,306.7h0 M144.6,307.3h0 M145.0,308.2h0 M145.8,308.7h0 M146.7,309.1h0 M147.1,309.9h0 M147.8,310.4h0 M148.7,310.7h0 M149.0,311.7h0 M149.8,312.0h0 M150.6,312.4h0 M151.0,313.3h0 M151.8,313.6h0 M152.5,314.0h0 M152.9,314.8h0 M153.7,315.1h0 M154.5,315.4h0 M154.9,316.2h0 M155.7,316.5h0 M156.4,316.8h0 M156.8,317.6h0 M157.6,317.9h0 M158.4,318.1h0 M158.8,318.9h0 M159.5,319.2h0 M160.3,319.4h0 M160.8,320.1h0 M161.5,320.4h0 M162.1,320.9h0 M162.6,321.6h0 M163.3,321.9h0 M164.0,322.1h0 M164.5,322.7h0 M165.3,322.9h0 M166.2,322.8h0 M166.6,323.7h0 M167.3,323.9h0 M168.0,324.1h0 M168.5,324.9h0 M169.3,324.9h0 M169.9,325.3h0 M170.5,325.9h0 M171.2,326.0h0 M172.0,326.1h0 M172.5,326.7h0 M173.2,326.9h0 M174.1,326.9h0 M174.5,327.5h0 M175.3,327.6h0 M176.1,327.7h0 M176.5,328.4h0 M177.2,328.6h0 M178.0,328.7h0 M178.4,329.4h0 M179.2,329.5h0 M179.9,329.7h0 M180.4,330.4h0 M181.2,330.3h0 M181.9,330.5h0 M182.3,331.3h0 M183.1,331.4h0 M183.8,331.5h0 M184.3,332.0h0 M185.0,332.2h0 M185.8,332.2h0 M186.3,332.7h0 M187.0,333.1h0 M187.7,333.0h0 M188.2,333.8h0 M189.0,333.8h0 M189.7,333.9h0 M190.2,334.4h0 M191.0,334.4h0 M191.7,334.5h0 M192.3,334.9h0 M193.0,334.9h0 M193.8,335.0h0 M194.2,335.8h0 M194.9,336.0h0 M195.6,336.1h0 M196.1,336.9h0 M196.8,336.9h0 M197.6,336.8h0 M198.1,337.4h0 M198.8,337.4h0 M199.6,337.4h0 M200.1,338.0h0 M200.9,337.9h0 M201.5,338.2h0 M202.0,338.8h0 M202.8,338.6h0 M203.5,338.7h0 M204.0,339.4h0 M204.7,339.6h0 M205.4,339.6h0 M206.0,340.2h0 M206.6,340.4h0 M207.3,340.4h0 M207.9,340.9h0 M208.6,341.0h0 M209.4,340.9h0 M209.9,341.4h0 M210.6,341.5h0 M211.3,341.7h0 M211.8,342.3h0 M212.6,342.3h0 M213.3,342.3h0 M213.8,343.0h0 M214.4,343.2h0 M215.2,343.0h0 M215.8,343.6h0 M216.5,343.6h0 M217.1,343.8h0 M217.7,344.3h0 M218.4,344.3h0 M219.1,344.4h0 M219.6,345.1h0 M220.3,345.2h0 M221.0,345.2h0 M221.6,345.7h0 M222.3,345.7h0 M223.0,345.6h0 M223.6,346.2h0 M224.3,346.2h0 M225.0,346.2h0 M225.5,347.2h0 M226.2,347.2h0 M226.8,347.4h0 M227.4,348.0h0 M228.1,347.9h0 M228.8,347.8h0 M229.4,348.3h0 M230.2,348.1h0 M230.9,348.0h0 M231.5,348.4h0 M232.2,348.5h0 M232.9,348.4h0 M233.5,349.0h0 M234.2,348.9h0 M234.9,349.0h0 M235.4,349.6h0 M236.1,349.7h0 M236.8,349.7h0 M237.4,350.2h0 M238.0,350.3h0 M238.8,350.2h0 M239.4,350.6h0 M240.1,350.4h0 M240.8,350.4h0 M241.4,350.8h0 M242.2,350.5h0 M242.9,350.4h0 M243.5,351.0h0 M244.2,350.8h0 M244.9,350.8h0 M245.5,351.3h0 M246.1,351.4h0 M246.9,351.2h0 M247.4,351.8h0 M248.1,351.9h0 M248.9,351.7h0 M249.4,352.3h0 M250.1,352.2h0 M250.8,352.5h0 M251.4,353.0h0 M252.1,352.8h0 M252.8,352.8h0 M253.4,353.2h0 M254.1,353.0h0 M254.8,352.8h0 M255.4,353.4h0 M256.1,353.5h0 M256.8,353.4h0 M257.4,354.1h0 M258.0,354.1h0 M258.8,353.9h0 M259.4,354.3h0 M260.0,354.4h0 M260.7,354.4h0 M261.3,354.8h0 M262.0,354.8h0 M262.7,354.9h0 M263.3,355.4h0 M264.0,355.2h0 M264.7,355.2h0 M265.3,355.7h0 M266.0,355.7h0 M266.7,355.5h0 M267.3,356.0h0 M268.0,355.9h0 M268.7,356.0h0 M269.2,356.6h0 M270.0,356.5h0 M270.7,356.4h0 M271.3,356.8h0 M272.0,356.6h0 M272.7,356.4h0 M273.3,356.9h0 M274.0,356.7h0 M274.7,356.5h0 M275.3,357.0h0 M276.0,356.9h0 M276.7,356.9h0 M277.3,357.3h0 M278.0,357.4h0 M278.7,357.4h0 M279.2,358.1h0 M279.9,358.1h0 M280.6,357.9h0 M281.2,358.4h0 M282.0,358.1h0 M282.6,358.0h0 M283.3,358.4h0 M284.0,358.1h0 M284.7,358.1h0 M285.3,358.8h0 M286.0,358.6h0 M286.7,358.3h0 M287.3,358.7h0 M288.0,358.6h0 M288.7,358.6h0 M289.3,358.9h0 M290.0,359.0h0 M290.6,359.1h0 M291.2,359.7h0 M291.9,359.5h0 M292.6,359.3h0 M293.3,359.7h0 M293.9,359.7h0 M294.6,359.5h0 M295.3,359.8h0 M296.0,359.8h0 M296.6,359.7h0 M297.2,360.2h0 M297.9,360.2h0 M298.7,359.8h0 M299.3,360.4h0 M300.0,360.2h0 M300.6,360.2h0 M301.2,360.7h0 M302.0,360.4h0 M302.6,360.5h0 M303.2,361.1h0 M303.9,361.2h0 M304.6,361.1h0 M305.2,361.5h0 M305.9,361.5h0 M306.5,361.5h0 M307.2,361.8h0 M307.9,361.5h0 M308.6,361.2h0 M309.2,361.9h0 M309.9,361.8h0 M310.6,361.4h0 M311.2,362.1h0 M311.9,362.2h0 M312.5,362.1h0 M313.1,362.6h0 M313.8,362.5h0 M314.5,362.4h0 M315.2,362.8h0 M315.9,362.5h0 M316.6,362.3h0 M317.2,362.6h0 M317.9,362.6h0 M318.5,362.6h0 M319.1,363.2h0 M319.8,363.3h0 M320.5,363.1h0 M321.1,363.7h0 M321.8,363.5h0 M322.5,363.3h0 M323.1,363.7h0 M323.8,363.5h0 M324.5,363.6h0 M325.1,364.1h0 M325.8,363.8h0 M326.5,363.6h0 M327.1,364.2h0 M327.8,364.1h0 M328.5,363.8h0 M329.1,364.2h0 M329.8,364.2h0 M330.5,364.1h0 M331.1,364.4h0 M331.8,364.3h0 M332.5,364.2h0 M333.1,364.7h0 M333.8,364.6h0 M334.5,364.4h0 M335.1,365.0h0 M335.8,364.7h0 M336.5,364.5h0 M337.1,364.9h0 M337.8,364.8h0 M338.5,364.8h0 M339.1,365.3h0 M339.8,365.3h0 M340.4,365.4h0 M341.0,365.9h0 M341.7,365.8h0 M342.4,365.7h0 M343.0,366.0h0 M343.7,365.9h0 M344.4,365.6h0 M345.0,366.1h0 M345.7,365.9h0 M346.4,365.7h0 M347.0,366.2h0 M347.7,366.0h0 M348.4,365.8h0 M349.1,366.2h0 M349.7,366.1h0 M350.4,366.0h0 M351.0,366.7h0 M351.7,366.6h0 M352.4,366.6h0 M353.0,367.0h0 M353.7,366.8h0 M354.4,366.4h0 M355.0,367.0h0 M355.7,366.8h0 M356.4,366.5h0 M357.0,367.1h0 M357.7,367.0h0 M358.4,367.0h0 M359.0,367.3h0 M359.7,367.2h0 M360.4,367.1h0 M361.0,367.5h0 M361.7,367.4h0 M362.4,367.2h0 M363.0,367.7h0 M363.7,367.5h0 M364.4,367.5h0 M365.0,367.9h0 M365.7,367.9h0 M366.3,367.7h0 M367.0,368.2h0 M367.6,368.1h0 M368.3,367.9h0 M368.9,368.5h0 M369.6,368.2h0 M370.3,368.1h0 M370.9,368.6h0 M371.6,368.3h0 M372.3,368.2h0 M373.0,368.6h0 M373.6,368.4h0 M374.3,368.1h0 M375.0,368.6h0 M375.6,368.4h0 M376.3,368.2h0 M377.0,368.8h0 M377.6,368.7h0 M378.3,368.6h0 M378.9,369.1h0 M379.6,369.0h0 M380.3,369.0h0 M380.9,369.6h0 M381.6,369.4h0 M382.2,369.5h0 M382.9,370.0h0 M383.5,370.0h0 M384.2,369.7h0 M384.9,369.9h0 M385.5,370.0h0 M386.2,369.7h0 M386.9,370.2h0 M387.6,369.9h0 M388.2,369.8h0 M388.9,370.4h0 M389.5,370.1h0 M390.2,369.8h0 M390.9,370.4h0 M391.5,370.3h0 M392.2,370.2h0 M392.8,370.6h0 M393.5,370.5h0 M394.2,370.7h0 M394.8,371.1h0 M395.5,371.0h0 M396.2,370.8h0 M396.8,371.3h0 M397.5,371.0h0 M398.2,370.8h0 M398.8,371.3h0 M399.5,371.0h0 M400.2,370.9h0 M400.8,371.2h0 M401.5,371.0h0 M402.2,370.8h0 M402.8,371.1h0 M403.5,371.2h0 M404.2,371.1h0 M404.8,371.5h0 M405.5,371.4h0 M406.2,371.3h0 M406.8,371.8h0 M407.5,371.8h0 M408.1,371.8h0 M408.8,372.2h0 M409.4,372.2h0 M410.1,372.0h0 M410.8,372.4h0 M411.4,372.1h0 M412.1,371.8h0 M412.8,372.3h0 M413.4,372.3h0 M414.1,372.1h0 M414.8,372.5h0 M415.4,372.2h0 M416.1,372.1h0 M416.8,372.5h0 M417.5,372.1h0 M418.1,371.9h0 M418.8,372.4h0 M419.4,372.4h0 M420.1,372.2h0 M420.7,372.7h0 M421.4,372.7h0 M422.1,372.7h0 M422.7,373.2h0 M423.4,373.3h0 M424.1,373.1h0 M424.7,373.6h0 M425.4,373.5h0 M426.0,373.3h0 M426.7,373.8h0 M427.4,373.3h0 M428.0,373.3h0 M428.7,373.7h0 M429.4,373.5h0 M430.0,373.4h0 M430.7,373.8h0 M431.3,373.8h0 M432.0,373.6h0 M432.7,374.1h0 M433.3,374.1h0 M434.0,373.8h0 M434.7,374.0h0 M435.3,374.0h0 M436.0,373.7h0 M436.7,374.0h0 M437.4,373.7h0 M438.0,373.6h0 M438.7,374.2h0 M439.3,373.9h0 M440.0,373.6h0 M440.7,374.1h0 M441.3,374.0h0 M442.0,373.7h0 M442.7,374.1h0 M443.3,374.1h0 M444.0,374.1h0 M444.6,374.5h0 M445.3,374.4h0 M446.0,374.3h0 M446.6,374.9h0 M447.3,374.6h0 M448.0,374.5h0 M448.6,375.0h0 M449.3,374.8h0 M450.0,374.7h0 M450.6,375.2h0 M451.3,375.0h0 M452.0,374.9h0 M452.6,375.2h0 M453.3,375.1h0 M454.0,374.8h0 M454.6,375.3h0 M455.3,375.2h0 M456.0,375.0h0 M456.6,375.6h0 M457.3,375.3h0 M457.9,375.3h0 M458.6,375.5h0 M459.3,375.2h0 M459.9,375.2h0 M460.6,375.7h0 M461.2,375.7h0 M461.9,375.4h0 M462.5,376.1h0 M463.2,376.1h0 M463.9,376.0h0 M464.5,376.1h0 M465.2,375.9h0 M465.9,375.8h0 M466.6,376.0h0 M467.2,375.9h0 M467.9,375.7h0 M468.5,376.3h0 M469.2,376.1h0 M469.9,376.0h0 M470.5,376.5h0 M471.2,376.5h0 M471.9,376.4h0 M472.5,376.9h0 M473.2,376.8h0 M473.9,376.5h0 M474.5,376.9h0 M475.2,376.7h0 M475.9,376.5h0 M476.5,376.8h0 M477.2,376.9h0 M477.8,376.9h0 M478.5,377.5h0 M479.1,377.5h0 M479.8,377.4h0 M480.4,377.9h0 M481.1,377.5h0 M481.8,377.3h0 M482.5,377.5h0 M483.1,377.2h0 M483.8,376.9h0 M484.5,377.4h0 M485.2,377.1h0 M485.8,376.8h0 M486.5,377.4h0 M487.1,377.4h0 M487.8,377.2h0 M488.5,377.5h0 M489.1,377.5h0 M489.8,377.4h0 M490.4,377.9h0 M491.1,377.7h0 M491.8,377.5h0 M492.4,378.1h0 M493.1,377.9h0 M493.8,377.8h0 M494.4,378.2h0 M495.1,378.2h0 M495.7,378.1h0 M496.4,378.5h0 M497.1,378.4h0 M497.7,378.1h0 M498.4,378.5h0 M499.1,378.2h0 M499.8,378.1h0 M500.4,378.4h0 M501.1,378.2h0 M501.8,378.1h0 M502.4,378.6h0 M503.1,378.3h0 M503.8,378.1h0 M504.4,378.7h0 M505.1,378.5h0 M505.7,378.4h0 M506.4,378.8h0 M507.1,378.6h0 M507.7,378.6h0 M508.4,379.0h0 M509.0,379.0h0" stroke="#1ea050" stroke-width="2.2" stroke-linecap="round" fill="none"/>
<g fill="#4a4a4a"><rect x="112.1" y="71.1" width="1.4" height="1.4"/><rect x="111.8" y="94.3" width="1.4" height="1.4"/><rect x="111.1" y="163.8" width="1.6" height="1.6"/><rect x="110.5" y="266.9" width="1.5" height="1.5"/></g>
<g fill="#f03030"><circle cx="112.1" cy="193.7" r="1"/><circle cx="112.7" cy="167.9" r="0.9"/><circle cx="111.2" cy="271.3" r="0.9"/></g>
<path d="M113,207 l2.1,3.9 h-4.2 Z M112.6,211.9 l1.7,3 h-3.4 Z M111.2,251.3 l1.5,1.8 l-1.5,1.8 l-1.5,-1.8 Z" fill="#1464e6"/>
<path d="M111.2,254 l1.4,1.5 l-1.4,1.5 l-1.4,-1.5 Z" fill="#1ea050"/>
<g fill="none" stroke-width="2.0" stroke-linejoin="round">
<path d="M114.0,62.1 L114.0,62.1 L114.0,62.2 L114.0,62.3 L114.0,62.6 L114.0,62.9 L114.1,63.3 L114.1,63.8 L114.1,64.4 L114.2,65.1 L114.2,65.9 L114.3,66.7 L114.3,67.7 L114.4,68.7 L114.5,69.8 L114.5,70.9 L114.6,72.1 L114.7,73.4 L114.8,74.8 L114.9,76.1 L115.0,77.6 L115.1,79.0 L115.3,80.5 L115.4,82.1 L115.5,83.6 L115.7,85.2 L115.8,86.8 L116.0,88.5 L116.2,90.1 L116.3,91.8 L116.5,93.4 L116.7,95.1 L116.9,96.7 L117.1,98.4 L117.3,100.1 L117.5,101.8 L117.8,103.4 L118.0,105.1 L118.2,106.8 L118.5,108.4 L118.7,110.1 L119.0,111.8 L119.3,113.4 L119.5,115.1 L119.8,116.7 L120.1,118.4 L120.4,120.0 L120.7,121.7 L121.1,123.3 L121.4,125.0 L121.7,126.6 L122.1,128.2 L122.4,129.8 L122.8,131.4 L123.2,133.0 L123.5,134.6 L123.9,136.2 L124.3,137.8 L124.7,139.3 L125.1,140.9 L125.5,142.4 L126.0,143.9 L126.4,145.5 L126.9,147.0 L127.3,148.5 L127.8,149.9 L128.2,151.4 L128.7,152.9 L129.2,154.3 L129.7,155.7 L130.2,157.1 L130.7,158.5 L131.2,159.9 L131.8,161.3 L132.3,162.6 L132.9,164.0 L133.4,165.3 L134.0,166.6 L134.6,167.9 L135.1,169.1 L135.7,170.4 L136.3,171.6 L137.0,172.8 L137.6,174.0 L138.2,175.2 L138.8,176.4 L139.5,177.6 L140.1,178.7 L140.8,179.8 L141.5,181.0 L142.2,182.1 L142.9,183.2 L143.6,184.2 L144.3,185.3 L145.0,186.3 L145.7,187.4 L146.5,188.4 L147.2,189.4 L148.0,190.4 L148.7,191.4 L149.5,192.4 L150.3,193.3 L151.1,194.3 L151.9,195.2 L152.7,196.2 L153.5,197.1 L154.4,198.0 L155.2,198.9 L156.1,199.8 L156.9,200.7 L157.8,201.6 L158.7,202.4 L159.6,203.3 L160.5,204.1 L161.4,205.0 L162.3,205.8 L163.2,206.7 L164.2,207.5 L165.1,208.3 L166.1,209.1 L167.0,209.9 L168.0,210.7 L169.0,211.5 L170.0,212.3 L171.0,213.1 L172.0,213.9 L173.1,214.7 L174.1,215.5 L175.1,216.3 L176.2,217.1 L177.3,217.9 L178.3,218.7 L179.4,219.5 L180.5,220.3 L181.6,221.1 L182.7,221.9 L183.9,222.7 L185.0,223.5 L186.1,224.2 L187.3,225.0 L188.5,225.7 L189.6,226.4 L190.8,227.1 L192.0,227.8 L193.2,228.5 L194.4,229.2 L195.7,229.9 L196.9,230.6 L198.1,231.2 L199.4,231.9 L200.7,232.6 L201.9,233.2 L203.2,233.9 L204.5,234.5 L205.8,235.2 L207.1,235.8 L208.5,236.5 L209.8,237.1 L211.2,237.7 L212.5,238.3 L213.9,239.0 L215.3,239.6 L216.7,240.2 L218.1,240.8 L219.5,241.4 L220.9,242.0 L222.3,242.6 L223.8,243.2 L225.2,243.8 L226.7,244.4 L228.1,244.9 L229.6,245.5 L231.1,246.1 L232.6,246.6 L234.1,247.2 L235.7,247.8 L237.2,248.3 L238.7,248.9 L240.3,249.4 L241.9,249.9 L243.4,250.5 L245.0,251.0 L246.6,251.5 L248.2,252.1 L249.8,252.6 L251.5,253.1 L253.1,253.6 L254.8,254.1 L256.4,254.6 L258.1,255.1 L259.8,255.6 L261.5,256.1 L263.2,256.6 L264.9,257.1 L266.6,257.6 L268.4,258.0 L270.1,258.5 L271.9,259.0 L273.6,259.4 L275.4,259.9 L277.2,260.3 L279.0,260.8 L280.8,261.2 L282.6,261.7 L284.5,262.1 L286.3,262.6 L288.2,263.0 L290.0,263.4 L291.9,263.9 L293.8,264.3 L295.7,264.7 L297.6,265.1 L299.5,265.5 L301.4,265.9 L303.4,266.3 L305.3,266.7 L307.3,267.1 L309.3,267.5 L311.3,267.9 L313.3,268.3 L315.3,268.7 L317.3,269.1 L319.3,269.5 L321.4,269.9 L323.4,270.2 L325.5,270.6 L327.5,271.0 L329.6,271.4 L331.7,271.7 L333.8,272.1 L335.9,272.5 L338.1,272.8 L340.2,273.2 L342.4,273.5 L344.5,273.9 L346.7,274.2 L348.9,274.6 L351.1,274.9 L353.3,275.3 L355.5,275.6 L357.7,275.9 L360.0,276.3 L362.2,276.6 L364.5,276.9 L366.8,277.3 L369.0,277.6 L371.3,277.9 L373.6,278.3 L376.0,278.6 L378.3,278.9 L380.6,279.2 L383.0,279.5 L385.4,279.9 L387.7,280.2 L390.1,280.5 L392.5,280.8 L394.9,281.1 L397.3,281.5 L399.8,281.8 L402.2,282.1 L404.7,282.4 L407.1,282.7 L409.6,283.0 L412.1,283.4 L414.6,283.7 L417.1,284.0 L419.6,284.3 L422.2,284.6 L424.7,284.9 L427.3,285.2 L429.8,285.5 L432.4,285.8 L435.0,286.1 L437.6,286.4 L440.2,286.7 L442.8,287.0 L445.5,287.3 L448.1,287.6 L450.8,287.9 L453.5,288.2 L456.1,288.5 L458.8,288.8 L461.5,289.1 L464.3,289.4 L467.0,289.7 L469.7,290.0 L472.5,290.3 L475.2,290.6 L478.0,290.9 L480.8,291.2 L483.6,291.4 L486.4,291.7 L489.2,292.0 L492.1,292.3 L494.9,292.6 L497.8,292.9 L500.6,293.2 L503.5,293.5 L506.4,293.8 L509.3,294.0" stroke="#aa69dc"/>
<path d="M114.0,142.9 L114.0,143.0 L114.0,143.1 L114.0,143.2 L114.0,143.4 L114.0,143.7 L114.1,144.1 L114.1,144.5 L114.1,145.1 L114.2,145.7 L114.2,146.3 L114.3,147.1 L114.3,147.9 L114.4,148.8 L114.5,149.7 L114.5,150.7 L114.6,151.8 L114.7,152.9 L114.8,154.0 L114.9,155.2 L115.0,156.4 L115.1,157.7 L115.3,159.0 L115.4,160.3 L115.5,161.6 L115.7,162.9 L115.8,164.2 L116.0,165.6 L116.2,166.9 L116.3,168.3 L116.5,169.7 L116.7,171.0 L116.9,172.4 L117.1,173.7 L117.3,175.1 L117.5,176.4 L117.8,177.8 L118.0,179.1 L118.2,180.4 L118.5,181.8 L118.7,183.1 L119.0,184.4 L119.3,185.7 L119.5,187.1 L119.8,188.4 L120.1,189.7 L120.4,191.0 L120.7,192.3 L121.1,193.6 L121.4,194.9 L121.7,196.1 L122.1,197.4 L122.4,198.7 L122.8,200.0 L123.2,201.2 L123.5,202.5 L123.9,203.7 L124.3,204.9 L124.7,206.2 L125.1,207.4 L125.5,208.6 L126.0,209.8 L126.4,211.0 L126.9,212.2 L127.3,213.3 L127.8,214.5 L128.2,215.6 L128.7,216.8 L129.2,217.9 L129.7,219.0 L130.2,220.1 L130.7,221.2 L131.2,222.3 L131.8,223.4 L132.3,224.5 L132.9,225.5 L133.4,226.6 L134.0,227.6 L134.6,228.6 L135.1,229.7 L135.7,230.7 L136.3,231.7 L137.0,232.7 L137.6,233.6 L138.2,234.6 L138.8,235.6 L139.5,236.5 L140.1,237.5 L140.8,238.4 L141.5,239.3 L142.2,240.3 L142.9,241.2 L143.6,242.1 L144.3,243.0 L145.0,243.8 L145.7,244.7 L146.5,245.6 L147.2,246.5 L148.0,247.3 L148.7,248.2 L149.5,249.0 L150.3,249.8 L151.1,250.7 L151.9,251.5 L152.7,252.3 L153.5,253.1 L154.4,253.9 L155.2,254.7 L156.1,255.5 L156.9,256.3 L157.8,257.1 L158.7,257.8 L159.6,258.6 L160.5,259.3 L161.4,260.1 L162.3,260.8 L163.2,261.6 L164.2,262.3 L165.1,263.0 L166.1,263.8 L167.0,264.5 L168.0,265.2 L169.0,265.9 L170.0,266.6 L171.0,267.3 L172.0,268.0 L173.1,268.6 L174.1,269.3 L175.1,270.0 L176.2,270.6 L177.3,271.3 L178.3,272.0 L179.4,272.6 L180.5,273.2 L181.6,273.9 L182.7,274.5 L183.9,275.1 L185.0,275.8 L186.1,276.4 L187.3,277.0 L188.5,277.6 L189.6,278.2 L190.8,278.8 L192.0,279.4 L193.2,279.9 L194.4,280.5 L195.7,281.1 L196.9,281.6 L198.1,282.2 L199.4,282.8 L200.7,283.3 L201.9,283.9 L203.2,284.4 L204.5,284.9 L205.8,285.5 L207.1,286.0 L208.5,286.5 L209.8,287.0 L211.2,287.5 L212.5,288.0 L213.9,288.6 L215.3,289.0 L216.7,289.5 L218.1,290.0 L219.5,290.5 L220.9,291.0 L222.3,291.5 L223.8,291.9 L225.2,292.4 L226.7,292.9 L228.1,293.3 L229.6,293.8 L231.1,294.2 L232.6,294.7 L234.1,295.1 L235.7,295.5 L237.2,296.0 L238.7,296.4 L240.3,296.8 L241.9,297.2 L243.4,297.7 L245.0,298.1 L246.6,298.5 L248.2,298.9 L249.8,299.3 L251.5,299.7 L253.1,300.1 L254.8,300.5 L256.4,300.9 L258.1,301.3 L259.8,301.6 L261.5,302.0 L263.2,302.4 L264.9,302.8 L266.6,303.1 L268.4,303.5 L270.1,303.9 L271.9,304.2 L273.6,304.6 L275.4,305.0 L277.2,305.3 L279.0,305.7 L280.8,306.0 L282.6,306.4 L284.5,306.7 L286.3,307.0 L288.2,307.4 L290.0,307.7 L291.9,308.1 L293.8,308.4 L295.7,308.7 L297.6,309.0 L299.5,309.4 L301.4,309.7 L303.4,310.0 L305.3,310.3 L307.3,310.7 L309.3,311.0 L311.3,311.3 L313.3,311.6 L315.3,311.9 L317.3,312.2 L319.3,312.5 L321.4,312.8 L323.4,313.2 L325.5,313.5 L327.5,313.8 L329.6,314.1 L331.7,314.4 L333.8,314.7 L335.9,315.0 L338.1,315.3 L340.2,315.5 L342.4,315.8 L344.5,316.1 L346.7,316.4 L348.9,316.7 L351.1,317.0 L353.3,317.3 L355.5,317.6 L357.7,317.9 L360.0,318.1 L362.2,318.4 L364.5,318.7 L366.8,319.0 L369.0,319.3 L371.3,319.6 L373.6,319.8 L376.0,320.1 L378.3,320.4 L380.6,320.7 L383.0,320.9 L385.4,321.2 L387.7,321.5 L390.1,321.7 L392.5,322.0 L394.9,322.3 L397.3,322.6 L399.8,322.8 L402.2,323.1 L404.7,323.4 L407.1,323.6 L409.6,323.9 L412.1,324.2 L414.6,324.4 L417.1,324.7 L419.6,324.9 L422.2,325.2 L424.7,325.5 L427.3,325.7 L429.8,326.0 L432.4,326.2 L435.0,326.5 L437.6,326.8 L440.2,327.0 L442.8,327.3 L445.5,327.5 L448.1,327.8 L450.8,328.0 L453.5,328.3 L456.1,328.5 L458.8,328.8 L461.5,329.0 L464.3,329.3 L467.0,329.5 L469.7,329.8 L472.5,330.0 L475.2,330.3 L478.0,330.5 L480.8,330.8 L483.6,331.0 L486.4,331.2 L489.2,331.5 L492.1,331.7 L494.9,332.0 L497.8,332.2 L500.6,332.5 L503.5,332.7 L506.4,332.9 L509.3,333.2" stroke="#c88c00"/>
<path d="M114.0,194.7 L114.0,194.7 L114.0,194.8 L114.0,194.9 L114.0,195.0 L114.0,195.2 L114.1,195.5 L114.1,195.8 L114.1,196.2 L114.2,196.6 L114.2,197.1 L114.3,197.7 L114.3,198.3 L114.4,198.9 L114.5,199.7 L114.5,200.4 L114.6,201.2 L114.7,202.1 L114.8,203.0 L114.9,204.0 L115.0,205.0 L115.1,206.0 L115.3,207.1 L115.4,208.2 L115.5,209.3 L115.7,210.5 L115.8,211.7 L116.0,212.9 L116.2,214.2 L116.3,215.4 L116.5,216.7 L116.7,218.0 L116.9,219.3 L117.1,220.6 L117.3,221.9 L117.5,223.2 L117.8,224.5 L118.0,225.8 L118.2,227.1 L118.5,228.4 L118.7,229.7 L119.0,230.9 L119.3,232.2 L119.5,233.5 L119.8,234.7 L120.1,236.0 L120.4,237.2 L120.7,238.4 L121.1,239.6 L121.4,240.8 L121.7,242.0 L122.1,243.2 L122.4,244.3 L122.8,245.5 L123.2,246.6 L123.5,247.7 L123.9,248.8 L124.3,249.9 L124.7,251.0 L125.1,252.0 L125.5,253.1 L126.0,254.1 L126.4,255.1 L126.9,256.1 L127.3,257.1 L127.8,258.1 L128.2,259.1 L128.7,260.1 L129.2,261.0 L129.7,262.0 L130.2,262.9 L130.7,263.8 L131.2,264.8 L131.8,265.7 L132.3,266.6 L132.9,267.5 L133.4,268.4 L134.0,269.2 L134.6,270.1 L135.1,270.9 L135.7,271.8 L136.3,272.6 L137.0,273.5 L137.6,274.3 L138.2,275.1 L138.8,275.9 L139.5,276.7 L140.1,277.5 L140.8,278.3 L141.5,279.1 L142.2,279.9 L142.9,280.7 L143.6,281.4 L144.3,282.2 L145.0,282.9 L145.7,283.7 L146.5,284.4 L147.2,285.2 L148.0,285.9 L148.7,286.6 L149.5,287.3 L150.3,288.0 L151.1,288.7 L151.9,289.4 L152.7,290.1 L153.5,290.8 L154.4,291.5 L155.2,292.1 L156.1,292.8 L156.9,293.5 L157.8,294.1 L158.7,294.8 L159.6,295.4 L160.5,296.0 L161.4,296.7 L162.3,297.3 L163.2,297.9 L164.2,298.5 L165.1,299.1 L166.1,299.7 L167.0,300.3 L168.0,300.9 L169.0,301.5 L170.0,302.1 L171.0,302.7 L172.0,303.2 L173.1,303.8 L174.1,304.3 L175.1,304.9 L176.2,305.4 L177.3,306.0 L178.3,306.5 L179.4,307.1 L180.5,307.6 L181.6,308.1 L182.7,308.6 L183.9,309.1 L185.0,309.7 L186.1,310.2 L187.3,310.7 L188.5,311.2 L189.6,311.7 L190.8,312.1 L192.0,312.6 L193.2,313.1 L194.4,313.6 L195.7,314.1 L196.9,314.5 L198.1,315.0 L199.4,315.4 L200.7,315.9 L201.9,316.4 L203.2,316.8 L204.5,317.2 L205.8,317.7 L207.1,318.1 L208.5,318.6 L209.8,319.0 L211.2,319.4 L212.5,319.8 L213.9,320.3 L215.3,320.7 L216.7,321.1 L218.1,321.5 L219.5,321.9 L220.9,322.3 L222.3,322.7 L223.8,323.1 L225.2,323.5 L226.7,323.9 L228.1,324.3 L229.6,324.7 L231.1,325.1 L232.6,325.5 L234.1,325.9 L235.7,326.2 L237.2,326.6 L238.7,327.0 L240.3,327.4 L241.9,327.7 L243.4,328.1 L245.0,328.5 L246.6,328.8 L248.2,329.2 L249.8,329.5 L251.5,329.9 L253.1,330.2 L254.8,330.6 L256.4,330.9 L258.1,331.3 L259.8,331.6 L261.5,331.9 L263.2,332.3 L264.9,332.6 L266.6,332.9 L268.4,333.3 L270.1,333.6 L271.9,333.9 L273.6,334.3 L275.4,334.6 L277.2,334.9 L279.0,335.2 L280.8,335.5 L282.6,335.8 L284.5,336.1 L286.3,336.5 L288.2,336.8 L290.0,337.1 L291.9,337.4 L293.8,337.7 L295.7,338.0 L297.6,338.3 L299.5,338.6 L301.4,338.8 L303.4,339.1 L305.3,339.4 L307.3,339.7 L309.3,340.0 L311.3,340.3 L313.3,340.6 L315.3,340.8 L317.3,341.1 L319.3,341.4 L321.4,341.7 L323.4,341.9 L325.5,342.2 L327.5,342.5 L329.6,342.7 L331.7,343.0 L333.8,343.3 L335.9,343.5 L338.1,343.8 L340.2,344.0 L342.4,344.3 L344.5,344.5 L346.7,344.8 L348.9,345.0 L351.1,345.3 L353.3,345.5 L355.5,345.8 L357.7,346.0 L360.0,346.3 L362.2,346.5 L364.5,346.7 L366.8,347.0 L369.0,347.2 L371.3,347.4 L373.6,347.7 L376.0,347.9 L378.3,348.1 L380.6,348.4 L383.0,348.6 L385.4,348.8 L387.7,349.0 L390.1,349.3 L392.5,349.5 L394.9,349.7 L397.3,349.9 L399.8,350.1 L402.2,350.4 L404.7,350.6 L407.1,350.8 L409.6,351.0 L412.1,351.2 L414.6,351.4 L417.1,351.6 L419.6,351.8 L422.2,352.1 L424.7,352.3 L427.3,352.5 L429.8,352.7 L432.4,352.9 L435.0,353.1 L437.6,353.3 L440.2,353.5 L442.8,353.7 L445.5,353.9 L448.1,354.1 L450.8,354.3 L453.5,354.5 L456.1,354.6 L458.8,354.8 L461.5,355.0 L464.3,355.2 L467.0,355.4 L469.7,355.6 L472.5,355.8 L475.2,356.0 L478.0,356.2 L480.8,356.4 L483.6,356.5 L486.4,356.7 L489.2,356.9 L492.1,357.1 L494.9,357.3 L497.8,357.5 L500.6,357.6 L503.5,357.8 L506.4,358.0 L509.3,358.2" stroke="#00c8c8"/>
<path d="M114.0,232.4 L114.0,232.5 L114.0,232.5 L114.0,232.6 L114.0,232.8 L114.0,233.1 L114.1,233.4 L114.1,233.8 L114.1,234.2 L114.2,234.7 L114.2,235.3 L114.3,235.9 L114.3,236.6 L114.4,237.4 L114.5,238.1 L114.5,239.0 L114.6,239.8 L114.7,240.7 L114.8,241.7 L114.9,242.6 L115.0,243.6 L115.1,244.6 L115.3,245.6 L115.4,246.6 L115.5,247.6 L115.7,248.7 L115.8,249.7 L116.0,250.7 L116.2,251.7 L116.3,252.7 L116.5,253.7 L116.7,254.7 L116.9,255.7 L117.1,256.7 L117.3,257.7 L117.5,258.7 L117.8,259.6 L118.0,260.6 L118.2,261.6 L118.5,262.5 L118.7,263.5 L119.0,264.4 L119.3,265.4 L119.5,266.3 L119.8,267.3 L120.1,268.2 L120.4,269.1 L120.7,270.1 L121.1,271.0 L121.4,272.0 L121.7,272.9 L122.1,273.9 L122.4,274.8 L122.8,275.8 L123.2,276.7 L123.5,277.6 L123.9,278.6 L124.3,279.5 L124.7,280.5 L125.1,281.4 L125.5,282.3 L126.0,283.3 L126.4,284.2 L126.9,285.1 L127.3,286.0 L127.8,286.9 L128.2,287.8 L128.7,288.7 L129.2,289.6 L129.7,290.5 L130.2,291.4 L130.7,292.3 L131.2,293.1 L131.8,294.0 L132.3,294.8 L132.9,295.7 L133.4,296.5 L134.0,297.4 L134.6,298.2 L135.1,299.0 L135.7,299.8 L136.3,300.6 L137.0,301.4 L137.6,302.1 L138.2,302.9 L138.8,303.6 L139.5,304.4 L140.1,305.1 L140.8,305.9 L141.5,306.6 L142.2,307.3 L142.9,308.0 L143.6,308.7 L144.3,309.4 L145.0,310.1 L145.7,310.7 L146.5,311.4 L147.2,312.1 L148.0,312.7 L148.7,313.4 L149.5,314.0 L150.3,314.6 L151.1,315.2 L151.9,315.8 L152.7,316.5 L153.5,317.1 L154.4,317.6 L155.2,318.2 L156.1,318.8 L156.9,319.4 L157.8,320.0 L158.7,320.5 L159.6,321.1 L160.5,321.6 L161.4,322.2 L162.3,322.7 L163.2,323.3 L164.2,323.8 L165.1,324.3 L166.1,324.8 L167.0,325.4 L168.0,325.9 L169.0,326.4 L170.0,326.9 L171.0,327.4 L172.0,327.9 L173.1,328.4 L174.1,328.9 L175.1,329.3 L176.2,329.8 L177.3,330.3 L178.3,330.8 L179.4,331.2 L180.5,331.7 L181.6,332.2 L182.7,332.6 L183.9,333.1 L185.0,333.5 L186.1,334.0 L187.3,334.4 L188.5,334.9 L189.6,335.3 L190.8,335.7 L192.0,336.2 L193.2,336.6 L194.4,337.0 L195.7,337.5 L196.9,337.9 L198.1,338.3 L199.4,338.7 L200.7,339.1 L201.9,339.5 L203.2,339.9 L204.5,340.3 L205.8,340.7 L207.1,341.1 L208.5,341.5 L209.8,341.9 L211.2,342.3 L212.5,342.7 L213.9,343.1 L215.3,343.4 L216.7,343.8 L218.1,344.2 L219.5,344.6 L220.9,344.9 L222.3,345.3 L223.8,345.7 L225.2,346.0 L226.7,346.4 L228.1,346.7 L229.6,347.1 L231.1,347.4 L232.6,347.8 L234.1,348.1 L235.7,348.5 L237.2,348.8 L238.7,349.1 L240.3,349.5 L241.9,349.8 L243.4,350.1 L245.0,350.5 L246.6,350.8 L248.2,351.1 L249.8,351.4 L251.5,351.7 L253.1,352.1 L254.8,352.4 L256.4,352.7 L258.1,353.0 L259.8,353.3 L261.5,353.6 L263.2,353.9 L264.9,354.2 L266.6,354.5 L268.4,354.8 L270.1,355.1 L271.9,355.4 L273.6,355.6 L275.4,355.9 L277.2,356.2 L279.0,356.5 L280.8,356.8 L282.6,357.1 L284.5,357.3 L286.3,357.6 L288.2,357.9 L290.0,358.1 L291.9,358.4 L293.8,358.7 L295.7,358.9 L297.6,359.2 L299.5,359.5 L301.4,359.7 L303.4,360.0 L305.3,360.2 L307.3,360.5 L309.3,360.7 L311.3,361.0 L313.3,361.2 L315.3,361.5 L317.3,361.7 L319.3,362.0 L321.4,362.2 L323.4,362.5 L325.5,362.7 L327.5,362.9 L329.6,363.2 L331.7,363.4 L333.8,363.6 L335.9,363.9 L338.1,364.1 L340.2,364.3 L342.4,364.6 L344.5,364.8 L346.7,365.0 L348.9,365.2 L351.1,365.5 L353.3,365.7 L355.5,365.9 L357.7,366.1 L360.0,366.3 L362.2,366.6 L364.5,366.8 L366.8,367.0 L369.0,367.2 L371.3,367.4 L373.6,367.6 L376.0,367.8 L378.3,368.0 L380.6,368.3 L383.0,368.5 L385.4,368.7 L387.7,368.9 L390.1,369.1 L392.5,369.3 L394.9,369.5 L397.3,369.7 L399.8,369.9 L402.2,370.1 L404.7,370.3 L407.1,370.5 L409.6,370.7 L412.1,370.9 L414.6,371.1 L417.1,371.3 L419.6,371.5 L422.2,371.7 L424.7,371.9 L427.3,372.1 L429.8,372.3 L432.4,372.5 L435.0,372.7 L437.6,372.9 L440.2,373.1 L442.8,373.3 L445.5,373.5 L448.1,373.7 L450.8,373.8 L453.5,374.0 L456.1,374.2 L458.8,374.4 L461.5,374.6 L464.3,374.8 L467.0,375.0 L469.7,375.2 L472.5,375.4 L475.2,375.6 L478.0,375.8 L480.8,375.9 L483.6,376.1 L486.4,376.3 L489.2,376.5 L492.1,376.7 L494.9,376.9 L497.8,377.1 L500.6,377.3 L503.5,377.4 L506.4,377.6 L509.3,377.8" stroke="#783840"/>
</g>
<rect x="77.7" y="17.0" width="465.0" height="374.0" fill="none" stroke="#000" stroke-width="1.5"/>
<path d="M110.9,391.0 v-6.8 M110.9,17.0 v6.8 M144.1,391.0 v-3.4 M144.1,17.0 v3.4 M177.3,391.0 v-6.8 M177.3,17.0 v6.8 M210.5,391.0 v-3.4 M210.5,17.0 v3.4 M243.6,391.0 v-6.8 M243.6,17.0 v6.8 M276.8,391.0 v-3.4 M276.8,17.0 v3.4 M310.0,391.0 v-6.8 M310.0,17.0 v6.8 M343.2,391.0 v-3.4 M343.2,17.0 v3.4 M376.4,391.0 v-6.8 M376.4,17.0 v6.8 M409.6,391.0 v-3.4 M409.6,17.0 v3.4 M442.7,391.0 v-6.8 M442.7,17.0 v6.8 M475.9,391.0 v-3.4 M475.9,17.0 v3.4 M509.1,391.0 v-6.8 M509.1,17.0 v6.8 M77.7,359.8 h3.4 M542.7,359.8 h-3.4 M77.7,328.7 h6.8 M542.7,328.7 h-6.8 M77.7,297.5 h3.4 M542.7,297.5 h-3.4 M77.7,266.3 h6.8 M542.7,266.3 h-6.8 M77.7,235.2 h3.4 M542.7,235.2 h-3.4 M77.7,204.0 h6.8 M542.7,204.0 h-6.8 M77.7,172.8 h3.4 M542.7,172.8 h-3.4 M77.7,141.7 h6.8 M542.7,141.7 h-6.8 M77.7,110.5 h3.4 M542.7,110.5 h-3.4 M77.7,79.3 h6.8 M542.7,79.3 h-6.8 M77.7,48.2 h3.4 M542.7,48.2 h-3.4" stroke="#000" stroke-width="1.5" fill="none"/>
<g font-size="25" text-anchor="middle">
<text x="110.9" y="418">0</text>
<text x="177.3" y="418">100</text>
<text x="243.6" y="418">200</text>
<text x="310.0" y="418">300</text>
<text x="376.4" y="418">400</text>
<text x="442.7" y="418">500</text>
<text x="509.1" y="418">600</text>
</g>
<g font-size="25" text-anchor="end">
<text x="69" y="398.0">100</text>
<text x="69" y="335.7">150</text>
<text x="69" y="273.3">200</text>
<text x="69" y="211.0">250</text>
<text x="69" y="148.7">300</text>
<text x="69" y="86.3">350</text>
<text x="69" y="24.0">400</text>
</g>
<text x="310.5" y="457.5" font-size="24.2" text-anchor="middle" textLength="84" lengthAdjust="spacingAndGlyphs">Time (s)</text>
<text transform="translate(22.7,204) rotate(-90)" font-size="24.2" text-anchor="middle" textLength="179.9" lengthAdjust="spacingAndGlyphs">Viscosity (mPa·s)</text>
<rect x="129.85" y="25.7" width="405.25" height="109.5" fill="#fff" stroke="#9c9c9c" stroke-width="0.9"/>
<g font-size="21.2">
<text x="132.3" y="47.8">Measured</text>
<text x="264.4" y="47.8">Shear rate=450/s</text>
<text x="476.2" y="47.8">Fitting</text>
<path d="M428,40.7 H476.6" stroke="#aa69dc" stroke-width="1.75" fill="none"/>
<text x="132.3" y="74.2">Measured</text>
<text x="264.4" y="74.2">Shear rate=600/s</text>
<text x="476.2" y="74.2">Fitting</text>
<path d="M428,67.1 H476.6" stroke="#c88c00" stroke-width="1.75" fill="none"/>
<text x="132.3" y="100.8">Measured</text>
<text x="264.4" y="100.8">Shear rate=750/s</text>
<text x="476.2" y="100.8">Fitting</text>
<path d="M428,93.7 H476.6" stroke="#00c8c8" stroke-width="1.75" fill="none"/>
<text x="132.3" y="127.2">Measured</text>
<text x="264.4" y="127.2">Shear rate=900/s</text>
<text x="476.2" y="127.2">Fitting</text>
<path d="M428,119.9 H476.6" stroke="#783840" stroke-width="1.75" fill="none"/>
</g>
<rect x="237.7" y="38.60000000000001" width="3.6" height="3.6" fill="#3c3c3c"/>
<circle cx="239.5" cy="67.1" r="2.15" fill="#f03030"/>
<path d="M237.0,95.60000000000001 L242.0,95.60000000000001 L239.5,91.2 Z" fill="#1464e6"/>
<path d="M237.0,118.7 L242.0,118.7 L239.5,123.10000000000001 Z" fill="#1ea050"/>
</svg></body></html>
